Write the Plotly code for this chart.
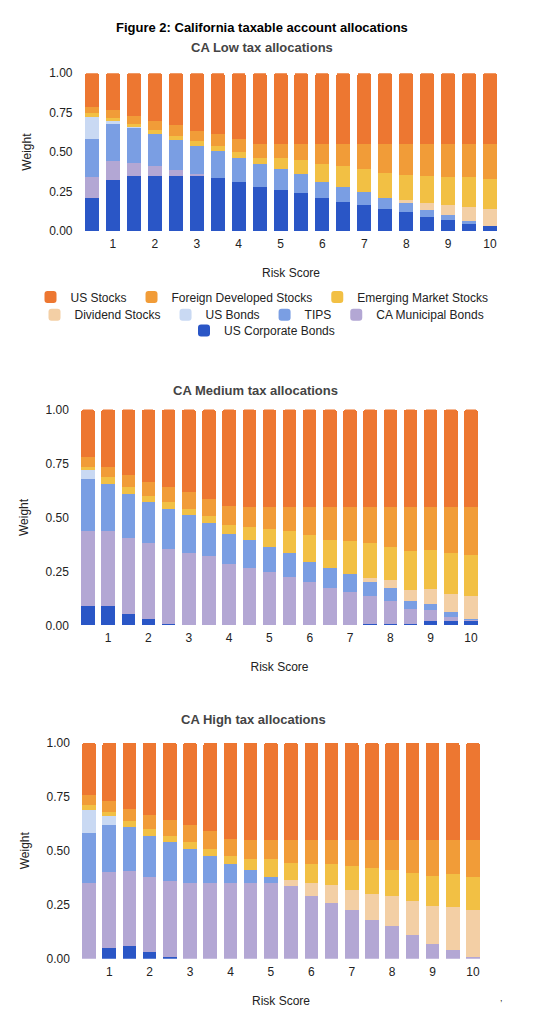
import plotly.graph_objects as go

# risk score for each bar (half steps)
risk_scores = [0.5, 1, 1.5, 2, 2.5, 3, 3.5, 4, 4.5, 5, 5.5, 6, 6.5, 7, 7.5, 8, 8.5, 9, 9.5, 10]
score_ticks = [1, 2, 3, 4, 5, 6, 7, 8, 9, 10]
weight_ticks = [0, 0.25, 0.5, 0.75, 1.0]

# asset classes, bottom of the stack first
asset_names = ["US Corporate Bonds", "CA Municipal Bonds", "TIPS", "US Bonds",
               "Dividend Stocks", "Emerging Market Stocks", "Foreign Developed Stocks", "US Stocks"]
asset_colors = ["#2a56c6", "#b3a7d4", "#7a9ee3", "#c9d9f3",
                "#f3cfa5", "#f2c044", "#f19c38", "#ed7731"]

# CA Low tax allocations
low_corp = [.21, .32, .35, .35, .35, .35, .335, .31, .28, .26, .24, .21, .185, .165, .14, .12, .09, .07, .045, .03]
low_muni = [.13, .125, .08, .06, .035, .01, 0, 0, 0, 0, 0, 0, 0, 0, 0, 0, 0, 0, 0, 0]
low_tips = [.245, .23, .225, .205, .19, .18, .17, .15, .145, .13, .12, .10, .095, .085, .07, .055, .04, .03, .015, 0]
low_usb = [.14, .02, .005, 0, 0, 0, 0, 0, 0, 0, 0, 0, 0, 0, 0, 0, 0, 0, 0, 0]
low_div = [0, 0, 0, 0, 0, 0, 0, 0, 0, 0, 0, 0, 0, 0, 0, .02, .05, .065, .09, .11]
low_em = [.02, .02, .015, .025, .03, .03, .035, .04, .035, .07, .09, .115, .13, .14, .16, .16, .17, .18, .19, .19]
low_fd = [.04, .05, .055, .055, .065, .065, .075, .08, .09, .09, .10, .125, .14, .16, .18, .195, .2, .205, .21, .22]
low_us = [.215, .235, .27, .305, .33, .365, .385, .42, .45, .45, .45, .45, .45, .45, .45, .45, .45, .45, .45, .45]

# CA Medium tax allocations
med_corp = [.09, .09, .055, .03, .005, 0, 0, 0, 0, 0, 0, 0, 0, 0, .005, .005, .005, .02, .02, .02]
med_muni = [.345, .345, .35, .35, .35, .335, .32, .285, .265, .245, .225, .2, .175, .155, .13, .11, .07, .05, .02, .005]
med_tips = [.245, .22, .205, .19, .185, .175, .155, .14, .13, .12, .11, .095, .09, .085, .065, .06, .04, .03, .02, .005]
med_usb = [.04, 0, 0, 0, 0, 0, 0, 0, 0, 0, 0, 0, 0, 0, 0, 0, 0, 0, 0, 0]
med_div = [0, 0, 0, 0, 0, 0, 0, 0, 0, 0, 0, 0, 0, 0, .02, .035, .05, .07, .085, .105]
med_em = [.015, .03, .03, .03, .03, .03, .03, .04, .06, .08, .1, .125, .13, .15, .16, .155, .18, .18, .19, .19]
med_fd = [.045, .05, .055, .065, .07, .08, .08, .09, .095, .105, .115, .13, .155, .16, .17, .185, .205, .2, .215, .225]
med_us = [.22, .265, .305, .335, .36, .38, .415, .445, .45, .45, .45, .45, .45, .45, .45, .45, .45, .45, .45, .45]

# CA High tax allocations
high_corp = [0, .05, .06, .03, .01, 0, 0, 0, 0, 0, 0, 0, 0, 0, 0, 0, 0, 0, 0, 0]
high_muni = [.35, .35, .345, .35, .35, .35, .35, .35, .35, .35, .335, .29, .26, .225, .18, .15, .11, .07, .04, .01]
high_tips = [.23, .22, .205, .19, .18, .16, .125, .09, .06, .03, 0, 0, 0, 0, 0, 0, 0, 0, 0, 0]
high_usb = [.11, .04, 0, 0, 0, 0, 0, 0, 0, 0, 0, 0, 0, 0, 0, 0, 0, 0, 0, 0]
high_div = [0, 0, 0, 0, 0, 0, 0, 0, 0, 0, .03, .06, .08, .095, .12, .14, .155, .175, .2, .215]
high_em = [.02, .02, .03, .03, .03, .03, .035, .035, .05, .08, .08, .09, .1, .11, .12, .12, .13, .14, .15, .155]
high_fd = [.05, .05, .055, .065, .07, .08, .08, .08, .09, .09, .105, .11, .11, .12, .13, .14, .155, .165, .16, .17]
high_us = [.24, .27, .305, .335, .36, .38, .41, .445, .45, .45, .45, .45, .45, .45, .45, .45, .45, .45, .45, .45]

panels = [
    ("", "CA Low tax allocations", [low_corp, low_muni, low_tips, low_usb, low_div, low_em, low_fd, low_us]),
    ("2", "CA Medium tax allocations", [med_corp, med_muni, med_tips, med_usb, med_div, med_em, med_fd, med_us]),
    ("3", "CA High tax allocations", [high_corp, high_muni, high_tips, high_usb, high_div, high_em, high_fd, high_us]),
]

# which legend row each asset goes in, and its place in that row
legend_row = {"US Stocks": "legend", "Foreign Developed Stocks": "legend", "Emerging Market Stocks": "legend",
              "Dividend Stocks": "legend2", "US Bonds": "legend2", "TIPS": "legend2", "CA Municipal Bonds": "legend2",
              "US Corporate Bonds": "legend3"}
legend_order = ["US Stocks", "Foreign Developed Stocks", "Emerging Market Stocks", "Dividend Stocks",
                "US Bonds", "TIPS", "CA Municipal Bonds", "US Corporate Bonds"]

fig = go.Figure()
for suffix, title, series in panels:
    for name, color, vals in zip(asset_names, asset_colors, series):
        fig.add_trace(go.Bar(x=risk_scores, y=vals, name=name, marker=dict(color=color, line=dict(width=0)),
                             xaxis="x" + suffix, yaxis="y" + suffix, showlegend=(suffix == ""),
                             legend=legend_row[name], legendrank=legend_order.index(name) + 1))

# the page body adds 8px around the figure, so the figure is that much smaller
PAD = 8
W, H = 557 - 2 * PAD, 1024 - 2 * PAD


def px(x):
    return (x - PAD) / W


def py(y):
    return 1 - (y - PAD) / H


# plot areas in page pixels: (left, right, top, bottom)
areas = [(81.5, 500.5, 67, 227), (77.9, 481.1, 408, 627), (78.9, 483.1, 746, 965)]
title_pos = [(262, 41), (256, 389), (253, 722)]

axis_font = dict(family="Arial, Liberation Sans", size=12, color="#222")
layout = dict(
    width=W, height=H, margin=dict(l=0, r=0, t=0, b=0),
    paper_bgcolor="white", plot_bgcolor="white",
    barmode="stack", bargap=0.33, barcornerradius=2,
    font=dict(family="Arial, Liberation Sans", size=12, color="#222"),
    annotations=[dict(text="<b>Figure 2: California taxable account allocations</b>", x=px(262), y=py(21),
                      xref="paper", yref="paper", showarrow=False, xanchor="center", yanchor="middle",
                      font=dict(size=13, color="#000"))],
)
for (suffix, title, _), (l, r, t, b), (tx, ty) in zip(panels, areas, title_pos):
    layout["xaxis" + suffix] = dict(domain=[px(l), px(r)], anchor="y" + suffix, range=[0.25, 10.25],
                                    tickvals=score_ticks, showgrid=False, zeroline=False, showline=False,
                                    ticks="", ticklabelstandoff=4, tickfont=axis_font,
                                    title=dict(text="Risk Score", font=axis_font, standoff=18))
    layout["yaxis" + suffix] = dict(domain=[py(b), py(t)], anchor="x" + suffix, range=[0, 1.0],
                                    tickvals=weight_ticks, tickformat=".2f", showgrid=False, zeroline=False,
                                    ticks="", ticklabelstandoff=8, tickfont=axis_font,
                                    title=dict(text="Weight", font=axis_font, standoff=14))
    layout["annotations"].append(dict(text="<b>" + title + "</b>", x=px(tx), y=py(ty), xref="paper",
                                      yref="paper", showarrow=False, xanchor="center", yanchor="middle",
                                      font=dict(size=13, color="#444")))

legend_base = dict(orientation="h", xanchor="center", x=px(262), yanchor="middle", traceorder="normal",
                   font=dict(size=12, color="#222"), bgcolor="rgba(0,0,0,0)", itemclick=False)
layout["legend"] = dict(legend_base, y=py(294))
layout["legend2"] = dict(legend_base, y=py(312))
layout["legend3"] = dict(legend_base, y=py(328))

layout["annotations"].append(dict(text=",", x=px(505), y=py(1012), xref="paper", yref="paper",
                                  showarrow=False, font=dict(size=9, color="#222")))

fig.update_layout(**layout)
fig.write_html("out.html")
